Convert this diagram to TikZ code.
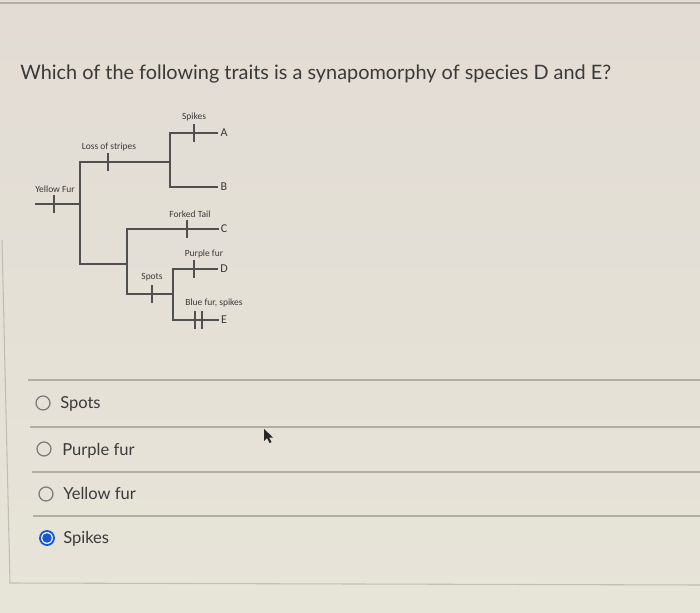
\documentclass[tikz,border=0pt]{standalone}
\usepackage{fontspec}
\setmainfont{Lato}
\newfontfamily\treefont{Carlito}
\definecolor{bgtop}{RGB}{226,220,212}
\definecolor{bgbot}{RGB}{231,228,216}
\definecolor{ink}{RGB}{58,58,58}
\definecolor{treeink}{RGB}{80,80,80}
\definecolor{sepline}{RGB}{178,174,164}
\definecolor{ringgray}{RGB}{120,120,120}
\definecolor{radioblue}{RGB}{25,85,215}
\tikzset{
  branch/.style={draw=treeink, line width=1.2pt, line join=miter},
  tick/.style={draw=treeink, line width=0.9pt},
  trait/.style={font=\treefont\fontsize{7.1}{8}\selectfont, text=ink, inner sep=0pt},
  leaf/.style={font=\treefont\fontsize{9}{10}\selectfont, text=ink, inner sep=1.5pt, anchor=center},
  sep/.style={draw=sepline, line width=0.8pt},
  radio/.style={draw=ringgray, line width=0.9pt, circle, minimum size=10.5pt, inner sep=0pt},
  answer/.style={font=\fontsize{12.4}{15}\selectfont, text=ink, anchor=base west, inner sep=0pt},
}
\begin{document}
\begin{tikzpicture}[x=0.75pt,y=-0.75pt]
\useasboundingbox (0,0) rectangle (700,613);
\shade[top color=bgtop, bottom color=bgbot] (0,0) rectangle (700,613);

% frame lines
\draw[sep] (0,3) -- (700,3);
\draw[sep, draw opacity=0.7] (2,240) -- (10,583) -- (700,585);

% question
\node[font=\fontsize{14.9}{17}\selectfont, text=ink, anchor=base west, inner sep=0pt] (q) at (20,80)
  {Which of the following traits is a synapomorphy of species D and E?};

% tree
\coordinate (root) at (35,204);
\coordinate (n1) at (80,204);
\coordinate (n2) at (170,162);
\coordinate (n3) at (127,264);
\coordinate (n4) at (173,294);
\node[leaf] (A) at (224,133) {A};
\node[leaf] (B) at (224,187) {B};
\node[leaf] (C) at (224,229) {C};
\node[leaf] (D) at (224,269) {D};
\node[leaf] (E) at (224,320) {E};

\draw[branch] (root) -- (n1);
\draw[branch] (n1) |- (n2);
\draw[branch] (n1) |- (n3);
\draw[branch] (n2) |- (A.west);
\draw[branch] (n2) |- (B.west);
\draw[branch] (n3) |- (C.west);
\draw[branch] (n3) |- (n4);
\draw[branch] (n4) |- (D.west);
\draw[branch] (n4) |- (E.west);

% character ticks
\draw[tick] (54,195) -- (54,213);
\draw[tick] (108,153) -- (108,171);
\draw[tick] (194,124) -- (194,142);
\draw[tick] (187,220) -- (187,238);
\draw[tick] (152,285) -- (152,303);
\draw[tick] (194,260) -- (194,278);
\draw[tick] (195,311) -- (195,329);
\draw[tick] (202,311) -- (202,329);

% trait labels
\node[trait] (tyellow) at (55,189) {Yellow Fur};
\node[trait] (tloss) at (109,147) {Loss of stripes};
\node[trait] (tspikes) at (194,117) {Spikes};
\node[trait] (tforked) at (190,214) {Forked Tail};
\node[trait] (tspots) at (152,277) {Spots};
\node[trait] (tpurple) at (204,254) {Purple fur};
\node[trait] (tblue) at (214,303) {Blue fur, spikes};

% answer separators
\draw[sep] (28,380) -- (700,380);
\draw[sep] (30,427) -- (700,427);
\draw[sep] (32,472) -- (700,472);
\draw[sep] (33,516) -- (700,516);

% answers
\node[radio] (r1) at (43,403) {};
\node[answer] (a1) at (60,408) {Spots};
\node[radio] (r2) at (44,449) {};
\node[answer] (a2) at (62,455) {Purple fur};
\node[radio] (r3) at (46,494) {};
\node[answer] (a3) at (63,499) {Yellow fur};
\node[radio, draw=radioblue, line width=1.4pt, fill=white] (r4) at (47,538) {};
\fill[radioblue] (r4.center) circle (3.6pt);
\node[answer] (a4) at (63,543) {Spikes};

% mouse cursor
\fill[black!85] (264,429) -- (264,441) -- (267,438) -- (269.5,443) -- (271.5,442) -- (269,437.5) -- (273,437.5) -- cycle;
\end{tikzpicture}
\end{document}
